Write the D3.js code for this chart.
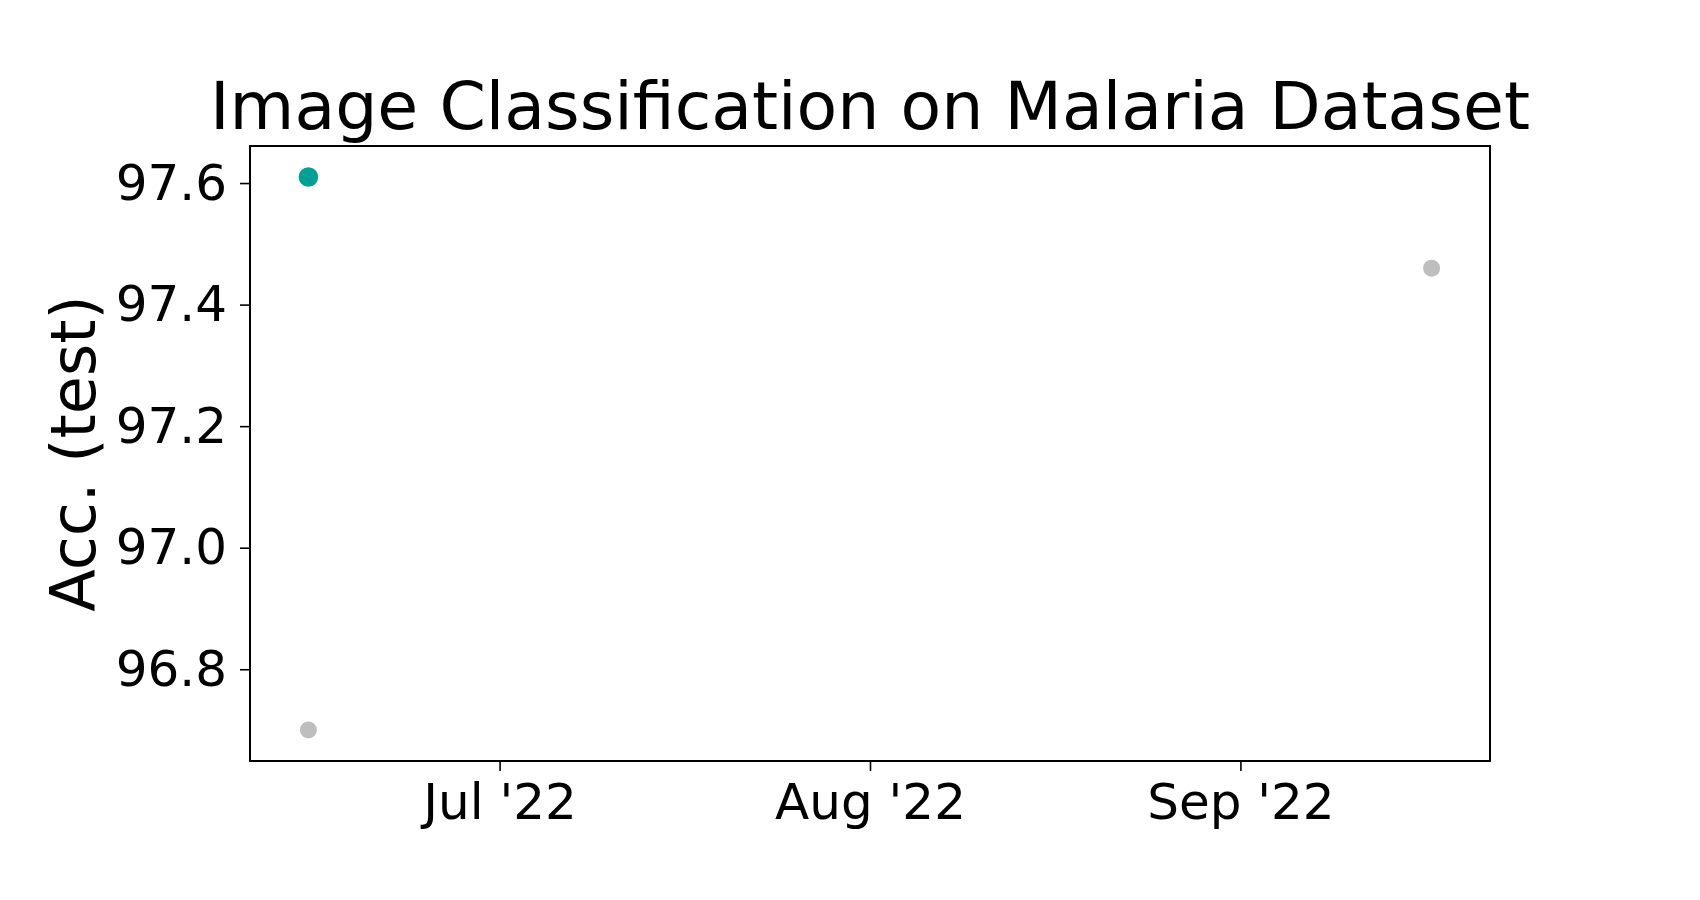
<!DOCTYPE html>
<html>
<head>
<meta charset="utf-8">
<script src="https://cdn.jsdelivr.net/npm/d3@7"></script>
<style>
  body { margin: 0; background: #fff; }
  svg text { font-family: "DejaVu Sans", sans-serif; fill: #000; }
</style>
</head>
<body>
<div id="chart"></div>
<script>
// data
const dates = ["2022-06-15", "2022-06-15", "2022-09-17"];
const accValues = [97.61, 96.70, 97.46];
const isBest = [true, false, false];
const yTicks = [96.8, 97.0, 97.2, 97.4, 97.6];
const xTicks = ["2022-07-01", "2022-08-01", "2022-09-01"];

const bestColor = "#00a095";
const otherColor = "#bebebe";

const totalWidth = 1700, totalHeight = 900;
const margins = { left: 250, right: 210, top: 146, bottom: 139 };
const width = totalWidth - margins.left - margins.right;
const height = totalHeight - margins.top - margins.bottom;

const parse = d3.utcParse("%Y-%m-%d");
const points = dates.map((d, i) => ({ date: parse(d), acc: accValues[i], best: isBest[i] }));

const svg = d3.select("#chart").append("svg")
    .attr("width", totalWidth)
    .attr("height", totalHeight);
const g = svg.append("g").attr("transform", `translate(${margins.left},${margins.top})`);

// x scale with matplotlib-like padding
const xExt = d3.extent(points, p => p.date.getTime());
const xPad = (xExt[1] - xExt[0]) * 0.052;
const x = d3.scaleUtc().domain([new Date(xExt[0] - xPad), new Date(xExt[1] + xPad)]).range([0, width]);

const yExt = d3.extent(accValues);
const yPad = (yExt[1] - yExt[0]) * 0.056;
const y = d3.scaleLinear().domain([yExt[0] - yPad, yExt[1] + yPad]).range([height, 0]);

// Y axis
const yAxisG = g.append("g").call(d3.axisLeft(y).tickValues(yTicks).tickFormat(d3.format(".1f")).tickSize(10).tickPadding(13));
yAxisG.select(".domain").remove();
yAxisG.selectAll("line").attr("stroke", "#000").attr("stroke-width", 1.6);
yAxisG.selectAll("text").attr("font-size", "50px").attr("font-family", "DejaVu Sans").attr("fill", "#000");

// X axis
const monthFmt = d3.utcFormat("%b '%y");
const xAxisG = g.append("g").attr("transform", `translate(0,${height})`)
    .call(d3.axisBottom(x).tickValues(xTicks.map(parse)).tickFormat(monthFmt).tickSize(10).tickPadding(12));
xAxisG.select(".domain").remove();
xAxisG.selectAll("line").attr("stroke", "#000").attr("stroke-width", 1.6);
xAxisG.selectAll("text").attr("font-size", "50px").attr("font-family", "DejaVu Sans").attr("fill", "#000")
    .attr("dy", "0.71em");

// frame
g.append("rect")
    .attr("width", width)
    .attr("height", height)
    .attr("fill", "none")
    .attr("stroke", "#000")
    .attr("stroke-width", 2);

// points (grey first so the best one sits on top)
g.selectAll("circle")
    .data(points.slice().sort((a, b) => a.best - b.best))
    .enter().append("circle")
    .attr("cx", d => x(d.date))
    .attr("cy", d => y(d.acc))
    .attr("r", d => d.best ? 9.8 : 8.5)
    .attr("fill", d => d.best ? bestColor : otherColor);

// title
svg.append("text")
    .attr("x", margins.left + width / 2)
    .attr("y", 129)
    .attr("text-anchor", "middle")
    .attr("font-size", "66.5px")
    .text("Image Classification on Malaria Dataset");

// y label
svg.append("text")
    .attr("transform", `translate(95,${margins.top + height / 2}) rotate(-90)`)
    .attr("text-anchor", "middle")
    .attr("font-size", "62px")
    .text("Acc. (test)");
</script>
</body>
</html>
